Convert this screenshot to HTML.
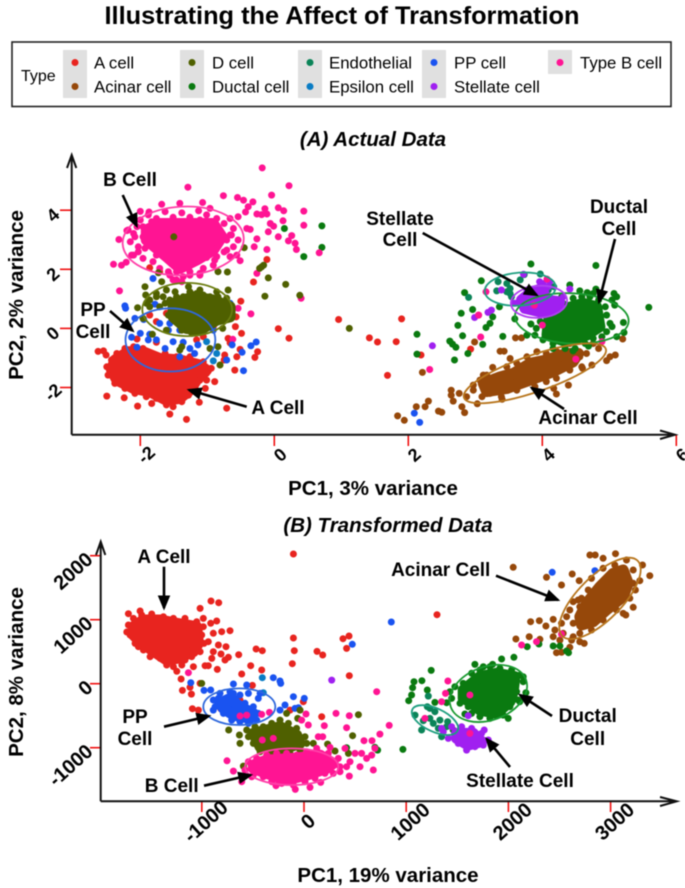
<!DOCTYPE html>
<html lang="en">
<head>
<meta charset="utf-8">
<title>Illustrating the Affect of Transformation</title>
<style>
html,body{margin:0;padding:0;background:#fff;width:685px;height:888px;overflow:hidden}
svg{display:block;filter:blur(.45px)}
text{font-family:"Liberation Sans",Arial,sans-serif;fill:#000}
.lab{font-size:19px;font-weight:bold;text-anchor:middle}
.leg{font-size:16.8px}
.ann{stroke:#000;stroke-width:2.6;fill:none;marker-end:url(#arrow-head)}
.axis{stroke:#111;stroke-width:2;fill:none}
</style>
</head>
<body>
<svg id="figure" xmlns="http://www.w3.org/2000/svg" width="685" height="888" viewBox="0 0 685 888">
<defs>
<marker id="arrow-head" viewBox="0 0 12 10" refX="10" refY="5" markerWidth="15" markerHeight="13" markerUnits="userSpaceOnUse" orient="auto"><path d="M0 0L12 5L0 10Z" fill="#000"/></marker>
</defs>
<rect width="685" height="888" fill="#fff"/>
<text x="342" y="24" font-size="25" font-weight="bold" text-anchor="middle" textLength="475" lengthAdjust="spacingAndGlyphs">Illustrating the Affect of Transformation</text>

<g>
<rect x="12" y="42" width="659" height="64.5" fill="#fff" stroke="#222" stroke-width="1.6"/>
<text font-size="16" x="21" y="81">Type</text>
<rect x="63" y="50" width="24" height="48" fill="#e0e0e0"/>
<rect x="180" y="50" width="24" height="48" fill="#e0e0e0"/>
<rect x="298" y="50" width="24" height="48" fill="#e0e0e0"/>
<rect x="422" y="50" width="24" height="48" fill="#e0e0e0"/>
<rect x="548" y="50" width="24" height="24" fill="#e0e0e0"/>
<g><circle cx="75" cy="62.5" r="3.5" fill="#e8241f"/><text class="leg" x="94" y="68.5">A cell</text></g>
<g><circle cx="75" cy="86.5" r="3.5" fill="#96480a"/><text class="leg" x="94" y="92.5">Acinar cell</text></g>
<g><circle cx="192" cy="62.5" r="3.5" fill="#4f6000"/><text class="leg" x="212" y="68.5">D cell</text></g>
<g><circle cx="192" cy="86.5" r="3.5" fill="#0a7a10"/><text class="leg" x="212" y="92.5">Ductal cell</text></g>
<g><circle cx="310" cy="62.5" r="3.5" fill="#0b8458"/><text class="leg" x="329" y="68.5">Endothelial</text></g>
<g><circle cx="310" cy="86.5" r="3.5" fill="#0a7cc4"/><text class="leg" x="329" y="92.5">Epsilon cell</text></g>
<g><circle cx="434" cy="62.5" r="3.5" fill="#1a53f0"/><text class="leg" x="454" y="68.5">PP cell</text></g>
<g><circle cx="434" cy="86.5" r="3.5" fill="#a020f0"/><text class="leg" x="454" y="92.5">Stellate cell</text></g>
<g><circle cx="560" cy="62.5" r="3.5" fill="#ff1493"/><text class="leg" x="580" y="68.5">Type B cell</text></g>
</g>

<text x="373" y="146" font-size="20.5" font-weight="bold" font-style="italic" text-anchor="middle">(A) Actual Data</text>
<text x="388" y="532" font-size="20.5" font-weight="bold" font-style="italic" text-anchor="middle">(B) Transformed Data</text>

<g id="panel-a"></g>
<g id="panel-b"></g>

<g>
<path class="axis" d="M71.7 434.7V155M67 168L71.7 155L76.3 168"/>
<path class="axis" d="M71.7 434.7H675M660 430.5L675 434.7L660 439"/>
<text x="373" y="495" font-size="20.5" font-weight="bold" text-anchor="middle">PC1, 3% variance</text>
<text transform="translate(23 295) rotate(-90)" font-size="20.5" font-weight="bold" text-anchor="middle">PC2, 2% variance</text>
</g>
<g>
<path class="axis" d="M100.7 801.3V541.7M96 555L100.7 541.7L105.3 555"/>
<path class="axis" d="M100.7 801.3H676.7M660 797L676.7 801.3L660 806"/>
<text x="388" y="882" font-size="20.5" font-weight="bold" text-anchor="middle">PC1, 19% variance</text>
<text transform="translate(23 672) rotate(-90)" font-size="20.5" font-weight="bold" text-anchor="middle">PC2, 8% variance</text>
</g>

<g>
<text class="lab" x="130" y="186">B Cell</text>
<line class="ann" x1="122.7" y1="195" x2="136.7" y2="226"/>
<text class="lab" x="93" y="316">PP</text>
<text class="lab" x="93" y="338">Cell</text>
<line class="ann" x1="110" y1="311" x2="132.7" y2="330.7"/>
<text class="lab" x="278" y="414">A Cell</text>
<line class="ann" x1="246.7" y1="406.7" x2="189" y2="390"/>
<text class="lab" x="400" y="225">Stellate</text>
<text class="lab" x="400" y="246">Cell</text>
<line class="ann" x1="422.7" y1="233" x2="536.7" y2="295"/>
<text class="lab" x="619" y="213">Ductal</text>
<text class="lab" x="619" y="235">Cell</text>
<line class="ann" x1="615" y1="239" x2="599" y2="302"/>
<text class="lab" x="588" y="424">Acinar Cell</text>
<line class="ann" x1="564" y1="409" x2="531.7" y2="388"/>
</g>
<g>
<text class="lab" x="164" y="563">A Cell</text>
<line class="ann" x1="164" y1="566.7" x2="164" y2="608"/>
<text class="lab" x="135" y="723">PP</text>
<text class="lab" x="135" y="745">Cell</text>
<line class="ann" x1="164" y1="726.7" x2="209" y2="716"/>
<text class="lab" x="171.7" y="792">B Cell</text>
<line class="ann" x1="204" y1="785.7" x2="250.7" y2="775"/>
<text class="lab" x="440.7" y="576">Acinar Cell</text>
<line class="ann" x1="496" y1="575.7" x2="558" y2="600"/>
<text class="lab" x="587.7" y="722">Ductal</text>
<text class="lab" x="587.7" y="745">Cell</text>
<line class="ann" x1="552" y1="716" x2="520" y2="695"/>
<text class="lab" x="520" y="787">Stellate Cell</text>
<line class="ann" x1="510" y1="767" x2="486.7" y2="739"/>
</g>
</svg>

<script>
/* ---------- tick values ---------- */
var xTicksA = [-2, 0, 2, 4, 6];
var yTicksA = [-2, 0, 2, 4];
var xTicksB = [-1000, 0, 1000, 2000, 3000];
var yTicksB = [-1000, 0, 1000, 2000];

/* ---------- Panel A: dense-cluster outlines, in PC units ---------- */
var aCellCoreA = [[-2.38,-1.07],[-2.18,-.79],[-1.96,-.79],[-1.71,-1.02],[-1.41,-1.07],[-1.11,-1.24],[-1.01,-1.41],[-1.16,-1.75],[-1.26,-2.09],[-1.41,-2.37],[-1.61,-2.43],[-1.86,-2.14],[-2.1,-2.03],[-2.35,-1.75],[-2.43,-1.41]];
var typeBCoreA = [[-1.91,3.33],[-1.71,3.55],[-1.31,3.55],[-.91,3.55],[-.78,3.1],[-.91,2.65],[-1.16,2.31],[-1.41,2.03],[-1.61,2.43],[-1.91,2.99]];
var dCellCoreA = [[-1.51,.85],[-1.21,1.07],[-.91,.96],[-.66,.73],[-.66,.39],[-.86,.28],[-1.11,-.06],[-1.31,0],[-1.51,.39]];
var ductalCoreA = [[4.09,.23],[4.36,.68],[4.61,.85],[4.81,.73],[4.86,.06],[4.66,-.23],[4.36,-.45],[4.07,-.23]];
var stellateCoreA = [[3.69,.96],[3.84,1.24],[4.01,1.35],[4.04,.96],[4.26,.9],[4.21,.68],[3.97,.56],[3.74,.68]];
var acinarCoreA = [[3.12,-1.86],[3.37,-1.64],[3.57,-1.52],[3.82,-1.18],[4.06,-1.07],[4.36,-.85],[4.54,-.85],[4.46,-1.13],[4.16,-1.47],[3.82,-1.75],[3.47,-2.03],[3.17,-2.14]];

/* ---------- Panel A: individual cells ---------- */
var aCellA = [[-2.63,-.78],[-2.55,-.76],[-2.51,-.9],[-2.5,-2.29],[-2.24,-2.35],[-2.04,-2.63],[-1.83,-2.54],[-1.56,-2.9],[-1.31,-3.08],[-.71,-2.7],[-1.12,-2.5],[-1.01,-1.75],[-.89,-1.8],[-1.03,-2.03],[-.31,1.57],[-.11,2.33],[-.5,.92],[-.57,.39],[-.58,.06],[-.49,-.17],[-.69,-.34],[-.66,-.49],[-.51,-.71],[-.56,-.96],[-.59,-1.41],[-.25,-.79],[-.29,-.98],[-.74,-.9],[-.75,-1.07],[.06,-.01],[.22,-.33],[.96,.3],[-1.86,2.05],[-1.71,1.92],[-1.86,.45],[-1.76,-.47],[-2.05,-.36],[-1.61,.51],[-1.76,.23],[-1.33,.17],[-1.16,-.39],[-1.06,-.28],[-.91,.06],[1.9,.32],[1.42,-.32],[1.54,-.46],[1.82,-.45],[1.69,-1.59],[2.19,-.9],[2.93,-.7],[3.05,.45],
[-2.43,-1.07],[-2.35,-.85],[-2.23,-.68],[-2.1,-.62],[-1.96,-.68],[-1.81,-.9],[-1.63,-.85],[-1.46,-.96],[-1.26,-.96],[-1.06,-1.13],[-.94,-1.35],[-1.01,-1.52],[-1.11,-1.75],[-1.18,-2.03],[-1.28,-2.26],[-1.38,-2.48],[-1.51,-2.65],[-1.61,-2.59],[-1.76,-2.37],[-1.91,-2.31],[-2.08,-2.2],[-2.23,-2.03],[-2.38,-1.86],[-2.48,-1.58],[-2.5,-1.3]];
var acinarA = [[1.84,-2.96],[1.94,-3.11],[2.12,-2.65],[2.25,-2.65],[2.3,-2.46],[2.45,-2.8],[2.5,-2.84],[2.64,-2.09],[2.64,-2.26],[2.67,-2.46],[2.8,-2.65],[2.84,-2.85],[2.76,-2.2],[2.87,-2.31],[3.03,-2.55],[3.4,-2.4],[2.21,-1.49],[2.99,-.46],[3.6,-.32],[3.69,-.32],[3.37,-.77],[3.43,-.77],[3.52,-1.02],[3.26,-1.32],[3.12,-1.58],[2.97,-1.92],[4.21,-2.22],[4.17,-2.03],[4.39,-1.92],[5.09,-.9],[5.01,-.96],[4.96,-1.09],[5.2,-.36],[4.74,-1.24],[4.6,-1.35],[4.56,-.96],[4.46,-.28],[4.61,-.19],[4.36,-.3],
[2.97,-2.09],[3.07,-1.75],[3.17,-1.58],[3.29,-1.64],[3.47,-1.3],[3.62,-1.18],[3.77,-.96],[3.92,-.79],[4.06,-.85],[4.22,-.79],[4.41,-.51],[4.61,-.34],[4.76,-.51],[4.84,-.68],[4.66,-.85],[4.59,-1.3],[4.41,-1.41],[4.21,-1.69],[4.06,-1.8],[3.89,-1.97],[3.62,-2.09],[3.49,-2.09],[3.22,-2.2],[3.1,-2.31],[3.39,-2.31]];
var ductalA = [[.15,3.38],[.71,3.47],[.71,2.74],[.44,2.43],[5.59,.71],[4.8,2.13],[4.8,1.33],[5.07,1.18],[5.11,1.07],[5.04,.96],[5.08,.79],[5.21,.2],[5.22,-.14],[5.11,-.28],[5.04,.06],[4.76,1.18],[4.67,1.21],[4.56,1.27],[4.41,1.47],[4.29,1.07],[4.16,.68],[3.97,.56],[3.74,.62],[3.59,.32],[3.83,.15],[3.77,-.23],[4.12,-.23],[4.16,-.68],[4.46,-.76],[4.69,-.6],[2.84,1.21],[2.96,.64],[2.79,.51],[2.74,.1],[3.16,.03],[3.22,.17],[2.81,-.25],[3.11,-.54],[3.41,-.27],[2.13,-.2],[2.13,-.87],[2.62,-.43],[2.66,-.53],[2.71,-.64],[2.69,-1.07],[2.89,-.85],[3.26,.39],[3.36,.73],[3.09,1.61],[3.83,2.18],
[3.97,.23],[4.06,.39],[4.19,.62],[4.31,.85],[4.46,1.02],[4.59,1.07],[4.71,1.07],[4.84,.96],[4.94,.73],[4.96,.45],[5.01,.17],[4.96,-.11],[4.89,-.28],[4.76,-.34],[4.64,-.51],[4.49,-.68],[4.34,-.68],[4.16,-.51],[4.01,-.39],[3.89,-.23],[3.91,0]];
var endoA = [[3.34,1.58],[3.47,1.52],[3.67,1.64],[3.73,1.82],[3.97,1.84],[3.52,1.18],[3.47,1.24],[3.54,1.07],[3.32,1.27],[2.9,1.05],[4.09,1.3],[4.17,1.41],[3.89,.96],[3.52,1.35]];
var stellateA = [[3.39,1.3],[3.72,1.83],[3.96,1.58],[4.11,1.58],[4.41,1.33],[2.99,.37],[3.19,.54],[3.24,.62],[2.36,-.59],[3.57,.85],[4.01,1.52],[4.09,1.41],[4.31,1.07],[4.29,.73],[3.59,.85],[3.77,1.3]];
var epsilonA = [[-1.01,-.45],[-.86,-.85],[-.91,-1.1]];
var typeBA = [[-.18,5.43],[-1.29,4.78],[.22,4.83],[-.04,4.51],[-.76,4.49],[-.55,4.43],[-.46,4.34],[-.32,4.28],[-.39,4.12],[-.43,3.94],[-.14,4.05],[.06,4.08],[.14,3.98],[.44,3.97],[-.26,3.87],[-.19,3.85],[-.11,3.87],[-.06,3.55],[-.01,3.46],[.13,3.64],[.44,3.49],[-.09,3.27],[.06,3.1],[.26,3.14],[.21,2.96],[.31,2.88],[.33,2.67],[.67,2.56],[-.11,2.67],[-.26,1.86],[-.41,3.38],[-.36,3.35],[-.26,3.03],[-.3,2.76],[-2.31,1.27],[.4,1.02],[-.35,.49],[-.54,.68],[-.62,-.37],[-1.68,4.2],[-1.41,4.23],[-1.07,4.26],[-2,3.96],[-1.87,3.94],[-2.18,3.33],[-2.32,3.01],[-2.4,2.17],[-2.28,2.14],[-2.21,2.24],[-2.13,2.48],[-2.03,2.59],[-2.08,3.1],[-1.96,3.44],[-.96,4.06],[-.66,3.72],[-.54,3.78],[-.64,3.16],[-.71,2.65],[-.56,2.48],[-.51,2.29],[-.89,2.31],[-1.11,1.86],[-1.26,1.92],[-1.46,1.64],[-1.56,1.8],[-1.36,1.75],[3.16,1.24],[4.07,1.67],[3.88,.79],[3.05,.45],[3.08,-.29],[2.32,-1.39],[4.5,-1.04],[4,.11],[4.89,-.45],
[-2,3.67],[-1.88,3.84],[-1.76,3.72],[-1.63,3.95],[-1.51,3.76],[-1.38,3.91],[-1.26,3.76],[-1.13,3.98],[-1.01,3.84],[-.86,3.72],[-.75,3.55],[-.61,3.38],[-.66,3.16],[-.54,2.99],[-.61,2.76],[-.75,2.59],[-.66,2.43],[-.86,2.43],[-.91,2.14],[-1.06,2.03],[-1.11,1.8],[-1.26,1.8],[-1.38,1.58],[-1.51,1.64],[-1.58,1.92],[-1.71,2.03],[-1.81,2.26],[-1.96,2.37],[-2.1,2.48],[-2.03,2.76],[-2.15,2.93],[-2.1,3.21],[-2.2,3.31],[-2.05,3.44],
[-1.96,3.1],[-1.83,3.61],[-1.56,3.61],[-1.11,3.67],[-.84,3.33],[-.71,2.99],[-.86,2.71],[-1.01,2.4],[-1.28,2.03],[-1.46,1.92],[-1.76,2.48],[-1.93,2.71]];
var ppA = [[-2.23,.76],[-2.22,.68],[-2.08,.34],[-1.95,.3],[-2.13,-.3],[-2,-.17],[-1.86,-.2],[-2.05,-.64],[-1.88,-.39],[-1.76,-.39],[-1.63,-.68],[-1.51,-.45],[-1.71,.17],[-1.56,.17],[-1.58,-.06],[-1.41,-.06],[-1.78,.82],[-1.81,1.69],[-1.36,-.47],[-1.26,-.68],[-1.14,-.56],[-1.19,-.85],[-1.41,-.96],[-1.11,.34],[-1.01,.23],[-.91,-.06],[-.63,-.56],[-.48,-.81],[-.35,-.59],[-.27,-.46],[-.71,-1.07],[-.46,-1.43],[-.66,.85],[2.09,-2.87],[2.17,-3.18]];
var dCellA = [[-1.73,1.88],[-1.68,1.58],[-1.93,1.41],[-1.92,1.13],[-1.86,.96],[-1.76,1.07],[-2.04,.7],[-1.61,1.3],[-1.48,1.24],[-1.28,1.41],[-1.11,1.3],[-.86,1.24],[-.84,1.92],[-.7,1.91],[-.69,1.3],[-.71,1.02],[-1.96,.34],[-1.82,-.2],[-1.61,-.06],[-1.41,-.73],[-1.38,-.62],[-.96,-.68],[-.84,-.62],[-.81,-1.24],[-.77,0],[-.45,2.73],[-.22,2.03],[-.16,2.14],[-.19,2.08],[-.09,1.71],[.17,1.49],[-.14,1.09],[.38,1.12],[-1.5,3.1],[1.12,0],
[-1.76,1.18],[-1.66,1.07],[-1.56,.96],[-1.46,1.07],[-1.36,1.07],[-1.26,1.24],[-1.16,1.18],[-1.06,1.13],[-.96,1.07],[-.84,1.07],[-.71,.85],[-.66,.62],[-.79,.39],[-.91,.17],[-1.06,-.06],[-1.23,-.17],[-1.38,-.06],[-1.48,.28],[-1.58,.45],[-1.71,.73],[-1.86,.73],[-1.91,.85],[-1.01,.06],[-1.41,.51],[-1.63,.85]];

/* ---------- Panel B: dense-cluster outlines, in PC units ---------- */
var aCellCoreB = [[-1669,891],[-1571,995],[-1408,995],[-1245,943],[-1050,891],[-1033,630],[-1082,500],[-1245,396],[-1343,370],[-1490,526],[-1604,656],[-1669,761]];
var ppCoreB = [[-822,-307],[-724,-229],[-626,-360],[-496,-464],[-528,-542],[-691,-490],[-789,-386]];
var dCellCoreB = [[-496,-776],[-235,-672],[-72,-802],[-39,-933],[-235,-1037],[-430,-985]];
var typeBCoreB = [[-496,-1271],[-365,-1193],[-104,-1167],[156,-1115],[287,-1245],[222,-1323],[26,-1428],[-170,-1506],[-365,-1401],[-496,-1323]];
var ductalCoreB = [[1558,-99],[1721,109],[1884,162],[2064,109],[2047,-125],[2015,-281],[1884,-464],[1721,-412],[1623,-281],[1558,-229]];
var stellateCoreB = [[1493,-776],[1656,-776],[1738,-907],[1607,-959],[1493,-854]];
var acinarCoreB = [[2699,1047],[2764,1256],[2895,1516],[3025,1725],[3123,1777],[3172,1568],[3123,1360],[2960,1151],[2830,969],[2716,917]];

/* ---------- Panel B: individual cells ---------- */
var aCellB = [[-1718,1094],[-1604,1136],[-1734,808],[-1620,578],[-1017,1177],[-910,1292],[-835,1266],[-854,979],[-913,943],[-985,1021],[-805,813],[-724,828],[-887,787],[-936,656],[-838,604],[-763,578],[-887,500],[-902,396],[-812,464],[-740,412],[-773,370],[-639,453],[-469,542],[-408,516],[-522,281],[-848,224],[-936,281],[-968,281],[-1082,266],[-1245,193],[-1203,73],[-610,151],[-414,214],[-505,-26],[-1115,-57],[-1102,-162],[-1190,-104],[-1017,5],[-1092,-391],[-1033,-412],[-815,-391],[-626,-255],[-104,2027],[-104,714],[-95,516],[-114,313],[127,505],[183,448],[-137,-412],[-7,-281],[173,-516],[1301,1078],[382,703],[440,745],[417,552],[443,125],
[-1718,917],[-1669,1021],[-1588,1073],[-1490,1089],[-1376,1047],[-1278,1021],[-1164,1021],[-1050,969],[-985,891],[-1001,761],[-978,630],[-1017,500],[-1099,422],[-1164,370],[-1196,292],[-1278,266],[-1343,292],[-1408,396],[-1506,422],[-1571,526],[-1653,630],[-1702,761]];
var acinarB = [[2047,1818],[2373,1662],[2520,1542],[2624,1714],[2693,1610],[2797,2011],[2849,2011],[3048,2032],[2927,1959],[3312,1855],[3384,1688],[3286,1610],[3243,1464],[3221,1193],[3149,1073],[2217,969],[2302,985],[2367,901],[2438,1005],[2455,839],[2438,735],[2504,682],[2073,698],[2204,735],[2308,693],[2601,568],[2471,485],[2520,490],[2618,682],[2742,630],[2699,656],[2569,1047],[2634,1282],[2715,1334],[3123,1099],
[2601,1151],[2634,943],[2699,787],[2813,839],[2927,995],[3058,1151],[3188,1334],[3221,1568],[3221,1777],[3156,1933],[3041,1855],[2927,1803],[2813,1646],[2781,1464],[2683,1308],[2699,1203],[2520,943],[2536,787],[2634,735]];
var ductalB = [[1672,302],[1754,266],[1845,302],[1933,386],[2054,412],[2145,109],[2171,-141],[2112,-281],[1998,-542],[1574,-474],[1245,208],[1154,47],[1076,31],[1063,-63],[1206,-99],[1053,-177],[1024,-266],[1281,-292],[1395,-297],[968,-1026],[694,-995],[720,-1037],[417,-1000],[2184,578],[2298,620],[2438,589],[2504,589],[2588,485],[2569,511],[1460,-724],
[1477,-47],[1558,5],[1640,162],[1721,214],[1819,266],[1917,240],[2031,214],[2112,135],[2145,31],[2080,-125],[2096,-255],[2015,-360],[1949,-490],[1819,-542],[1721,-516],[1640,-464],[1607,-360],[1526,-307],[1444,-229],[1428,-125]];
var endoB = [[1216,-193],[1206,-359],[1086,-490],[1151,-724],[1232,-542],[1265,-620],[1330,-568],[1405,-594],[1314,-698],[1346,-828],[1526,-724],[1519,-880],[1167,-578],[1281,-438],[1395,-672],[1232,-386]];
var stellateB = [[271,57],[1607,-500],[1763,-724],[1346,-698],[1363,-750],[1444,-672],[1542,-672],[1640,-698],[1738,-776],[1803,-880],[1754,-959],[1673,-985],[1591,-1037],[1509,-933],[1412,-854]];
var epsilonB = [[-408,94],[-398,-141]];
var typeBB = [[-753,-1204],[-691,-1365],[-610,-1532],[-512,-1454],[-274,-1594],[-85,-1652],[59,-1620],[163,-1542],[-626,-505],[-561,-490],[-1131,172],[-414,-479],[-339,-448],[-23,-568],[20,-474],[42,-646],[199,-656],[140,-828],[183,-828],[313,-464],[-408,-880],[-300,-854],[254,-995],[711,-125],[443,-500],[417,-688],[587,-891],[665,-891],[743,-787],[834,-651],[401,-1011],[499,-1089],[662,-1115],[678,-1349],[443,-1443],[352,-1375],[548,-1297],[613,-1167],[450,-1219],[417,-1297],[564,-1089],[694,-1011],[1408,42],[1385,-151],[1346,-281],[1183,-542],[1623,-776],[2129,604],[2275,656],[2520,776],[1623,-177],
[-544,-1219],[-463,-1167],[-365,-1115],[-267,-1089],[-170,-1089],[-72,-1115],[26,-1063],[124,-1011],[238,-1089],[336,-1167],[352,-1297],[287,-1401],[205,-1401],[108,-1480],[10,-1532],[-104,-1584],[-218,-1558],[-316,-1532],[-398,-1454],[-496,-1428],[-577,-1349]];
var ppB = [[-1108,16],[-978,-104],[-913,-99],[-691,-5],[-561,-21],[-447,-229],[-300,94],[-235,42],[-228,5],[-104,-203],[3,-229],[-186,-333],[-235,-412],[-88,-386],[-55,-375],[-887,-412],[-691,-151],[-544,-151],[-430,-151],[854,964],[473,615],[2429,1740],[2846,1766],
[-887,-255],[-822,-151],[-724,-125],[-675,-229],[-577,-307],[-496,-360],[-447,-464],[-463,-568],[-544,-620],[-626,-594],[-707,-568],[-789,-464],[-870,-360],[-838,-229],[-626,-177],[-610,-360]];
var dCellB = [[-737,-724],[-632,-802],[-626,-933],[-1001,5],[-170,-464],[-62,-542],[-39,-412],[-593,-1287],[91,-933],[231,-943],[303,-1052],[532,-485],[476,-813],[434,-1089],
[-561,-724],[-479,-672],[-398,-672],[-316,-620],[-235,-568],[-153,-620],[-72,-698],[10,-828],[26,-933],[-39,-1037],[-137,-1089],[-235,-1115],[-333,-1089],[-430,-1063],[-496,-933],[-544,-828]];

/* ---------- Confidence ellipses: centre x, centre y, x radius, y radius, tilt ---------- */
var ellipseStatsA = [
  ['typeB', -1.36, 2.96, .905, 1.16, -3],
  ['dCell', -1.30, .64, .67, .90, 0],
  ['pp', -1.55, -.39, .67, 1.07, 0],
  ['ductal', 4.44, .34, .85, .85, 3],
  ['endo', 3.67, 1.33, .53, .56, -4],
  ['stellate', 3.95, .90, .42, .54, -4],
  ['acinar', 3.89, -1.52, 1.12, .62, -19]
];
var ellipseStatsB = [
  ['pp', -633, -359, 352, 286, 0],
  ['typeB', -120, -1297, 456, 286, 0],
  ['ductal', 1804, -151, 391, 417, -20],
  ['endo', 1282, -568, 245, 182, 25],
  ['acinar', 2896, 1333, 522, 340, -45]
];

/* ---------- Series drawing order ---------- */
var seriesA = [
  ['aCell', aCellA, aCellCoreA], ['acinar', acinarA, acinarCoreA], ['ductal', ductalA, ductalCoreA],
  ['endo', endoA, null], ['stellate', stellateA, stellateCoreA], ['epsilon', epsilonA, null],
  ['typeB', typeBA, typeBCoreA], ['pp', ppA, null], ['dCell', dCellA, dCellCoreA]
];
var seriesB = [
  ['aCell', aCellB, aCellCoreB], ['acinar', acinarB, acinarCoreB], ['ductal', ductalB, ductalCoreB],
  ['endo', endoB, null], ['stellate', stellateB, stellateCoreB], ['epsilon', epsilonB, null],
  ['pp', ppB, ppCoreB], ['dCell', dCellB, dCellCoreB], ['typeB', typeBB, typeBCoreB]
];

var fillColors = {aCell:'#e8241f',acinar:'#96480a',dCell:'#4f6000',ductal:'#0a7a10',endo:'#0b8458',epsilon:'#0a7cc4',pp:'#1a53f0',stellate:'#a020f0',typeB:'#ff1493'};
var lineColors = {aCell:'#e8241f',acinar:'#b8761e',dCell:'#6b7d10',ductal:'#1a9a30',endo:'#1f9f80',epsilon:'#0a7cc4',pp:'#2f68dc',stellate:'#b040f0',typeB:'#ff40a8'};
var SVGNS = 'http://www.w3.org/2000/svg';

function xScaleA(v){ return 274.3 + 67 * v; }
function yScaleA(v){ return 328.4 - 29.55 * v; }
function xScaleB(v){ return 304 + 0.1022 * v; }
function yScaleB(v){ return 683.7 - 0.064 * v; }

function drawSeries(host, list, xs, ys){
  list.forEach(function(s){
    if (s[2]) {
      var poly = document.createElementNS(SVGNS, 'polygon');
      
      
      poly.setAttribute('points', s[2].map(function(p){ return xs(p[0]).toFixed(1) + ',' + ys(p[1]).toFixed(1); }).join(' '));
      poly.setAttribute('fill', fillColors[s[0]]);
      poly.setAttribute('stroke', fillColors[s[0]]);
      poly.setAttribute('stroke-width', '11');
      poly.setAttribute('stroke-linejoin', 'round');
      host.appendChild(poly);
    }
    s[1].forEach(function(p){
      var c = document.createElementNS(SVGNS, 'circle');
      
      
      c.setAttribute('cx', xs(p[0]).toFixed(1));
      c.setAttribute('cy', ys(p[1]).toFixed(1));
      c.setAttribute('r', '3.5');
      c.setAttribute('fill', fillColors[s[0]]);
      host.appendChild(c);
    });
  });
}

function drawEllipses(host, list, xs, ys){
  list.forEach(function(e){
    var cx = xs(e[1]), cy = ys(e[2]);
    var el = document.createElementNS(SVGNS, 'ellipse');
    
    
    el.setAttribute('cx', cx.toFixed(1));
    el.setAttribute('cy', cy.toFixed(1));
    el.setAttribute('rx', Math.abs(xs(e[3]) - xs(0)).toFixed(1));
    el.setAttribute('ry', Math.abs(ys(e[4]) - ys(0)).toFixed(1));
    el.setAttribute('transform', 'rotate(' + e[5] + ' ' + cx.toFixed(1) + ' ' + cy.toFixed(1) + ')');
    el.setAttribute('fill', 'none');
    el.setAttribute('stroke', lineColors[e[0]]);
    el.setAttribute('stroke-width', '1.8');
    host.appendChild(el);
  });
}

function addTickMark(host, x1, y1, x2, y2){
  var t = document.createElementNS(SVGNS, 'line');
  
  
  t.setAttribute('x1', x1); t.setAttribute('y1', y1);
  t.setAttribute('x2', x2); t.setAttribute('y2', y2);
  t.setAttribute('stroke', '#f01010');
  t.setAttribute('stroke-width', '1.6');
  host.appendChild(t);
}

function addTickLabel(host, value, x, y, anchor, size){
  var t = document.createElementNS(SVGNS, 'text');
  
  
  t.setAttribute('transform', 'translate(' + x + ' ' + y + ') rotate(-42)');
  t.setAttribute('text-anchor', anchor);
  t.setAttribute('dominant-baseline', 'central');
  t.setAttribute('font-size', size);
  t.setAttribute('font-weight', 'bold');
  t.textContent = String(value);
  host.appendChild(t);
}

var hostA = document.getElementById('panel-a');
var hostB = document.getElementById('panel-b');

drawSeries(hostA, seriesA, xScaleA, yScaleA);
drawEllipses(hostA, ellipseStatsA, xScaleA, yScaleA);
xTicksA.forEach(function(v){
  addTickMark(hostA, xScaleA(v), 435, xScaleA(v), 446);
  addTickLabel(hostA, v, xScaleA(v) + 6, 455, 'middle', 18);
});
yTicksA.forEach(function(v){
  addTickMark(hostA, 60, yScaleA(v), 71, yScaleA(v));
  addTickLabel(hostA, v, 53, yScaleA(v) + 5, 'middle', 18);
});

drawSeries(hostB, seriesB, xScaleB, yScaleB);
drawEllipses(hostB, ellipseStatsB, xScaleB, yScaleB);
xTicksB.forEach(function(v){
  addTickMark(hostB, xScaleB(v), 801.5, xScaleB(v), 812);
  addTickLabel(hostB, v, xScaleB(v) + 4.5, 822, 'middle', 20);
});
yTicksB.forEach(function(v){
  addTickMark(hostB, 90, yScaleB(v), 100, yScaleB(v));
  addTickLabel(hostB, v, 90, yScaleB(v) + 1, 'end', 20);
});
</script>
</body>
</html>
